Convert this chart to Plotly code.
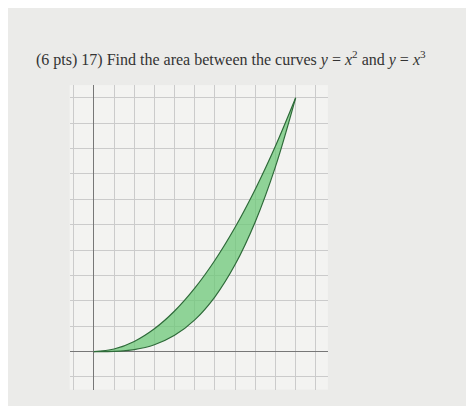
import plotly.graph_objects as go

x_vals = [0, 0.1, 0.2, 0.3, 0.4, 0.5, 0.6, 0.7, 0.8, 0.9, 1.0]
y_sq = [0, 0.01, 0.04, 0.09, 0.16, 0.25, 0.36, 0.49, 0.64, 0.81, 1.0]
y_cube = [0, 0.001, 0.008, 0.027, 0.064, 0.125, 0.216, 0.343, 0.512, 0.729, 1.0]

fig = go.Figure()
fig.add_trace(go.Scatter(x=x_vals, y=y_cube, mode="lines", line=dict(color="#2f6b3a", width=1.2, shape="spline"), showlegend=False))
fig.add_trace(go.Scatter(x=x_vals, y=y_sq, mode="lines", fill="tonexty", fillcolor="rgba(110,200,120,0.75)",
                         line=dict(color="#2f6b3a", width=1.2, shape="spline"), showlegend=False))

fig.update_layout(
    width=474, height=406,
    paper_bgcolor="#ebebe9", plot_bgcolor="#f3f3f1",
    margin=dict(l=0, r=0, t=0, b=0),
    xaxis=dict(domain=[0.13, 0.675], range=[-0.12, 1.16], dtick=0.1, showticklabels=False,
               gridcolor="#cbcbcb", gridwidth=1, zeroline=True, zerolinecolor="#777", zerolinewidth=1.2),
    yaxis=dict(domain=[0.06, 0.81], range=[-0.15, 1.05], dtick=0.1, showticklabels=False,
               gridcolor="#cbcbcb", gridwidth=1, zeroline=True, zerolinecolor="#777", zerolinewidth=1.2),
    annotations=[dict(text="(6 pts) 17) Find the area between the curves <i>y</i> = <i>x</i><sup>2</sup> and <i>y</i> = <i>x</i><sup>3</sup>",
                      x=0.055, y=0.845, xref="paper", yref="paper", xanchor="left", yanchor="bottom", showarrow=False,
                      font=dict(family="Liberation Serif", size=16, color="#333"))],
)
fig.write_html("out.html")
